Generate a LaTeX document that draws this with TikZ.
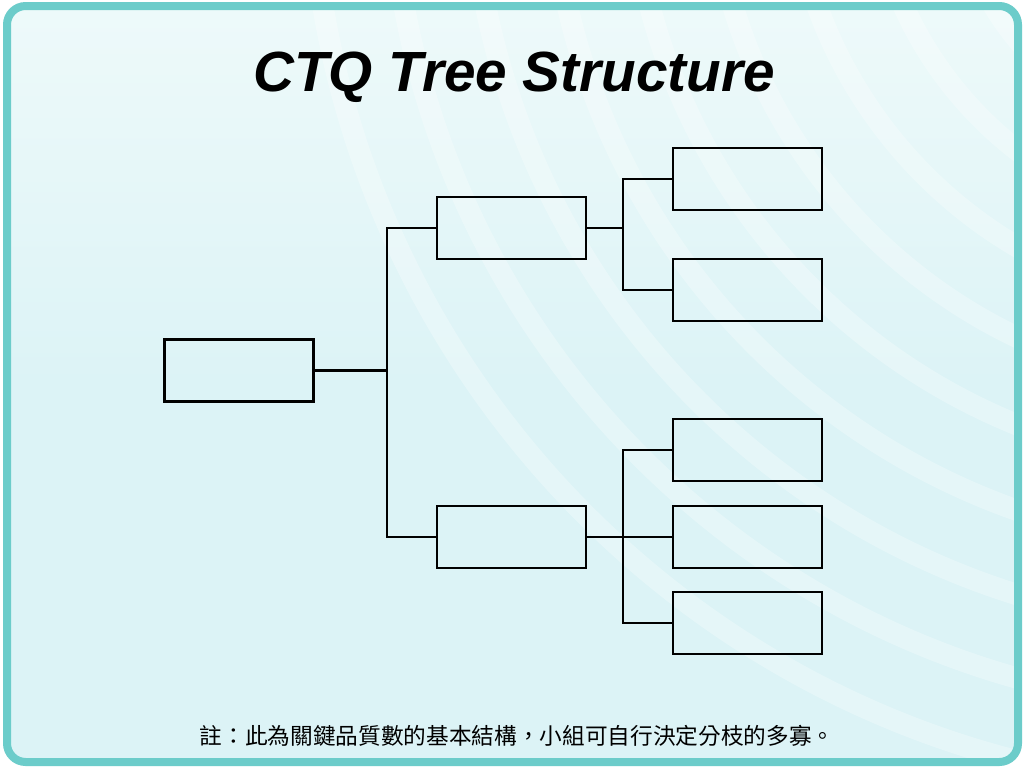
\documentclass[tikz,border=0pt]{standalone}
\usepackage{fontspec}
\setmainfont{Liberation Sans}
\newfontfamily\cjk{Noto Sans CJK TC}
\definecolor{frameteal}{RGB}{108,204,202}
\definecolor{bgcyan}{RGB}{220,243,246}
\definecolor{bgtop}{RGB}{238,250,250}
\tikzset{
  box/.style={draw=black, line width=1.8pt, rectangle, inner sep=0pt,
    minimum width=111.75pt, minimum height=46.5pt},
  link/.style={draw=black, line width=1.8pt, line join=miter},
  wave/.style={draw=white, opacity=0.28, line width=16pt}
}
\begin{document}
\begin{tikzpicture}[x=0.75pt,y=-0.75pt]
\useasboundingbox (0,0) rectangle (1024,768);
\fill[white] (0,0) rectangle (1024,768);
% background panel
\begin{scope}
  \clip[rounded corners=14pt] (7,6) rectangle (1018,762);
  \shade[top color=bgtop, bottom color=bgcyan, middle color=bgcyan] (0,0) rectangle (1024,768);
  \foreach \r in {300,380,460,540,620,700,780,860,940}{
    \draw[wave] (1250,-150) circle (\r);
  }
\end{scope}
\draw[frameteal, line width=6pt, rounded corners=14pt] (7,6) rectangle (1018,762);
% title
\node[font=\fontsize{42.5}{50}\selectfont\bfseries\itshape] (title) at (514,77) {CTQ Tree Structure};
% boxes
\node[box] (root) at (239,370.5) {};
\node[box] (m1) at (511.5,228) {};
\node[box] (m2) at (511.5,537) {};
\node[box] (l1) at (747.5,179) {};
\node[box] (l2) at (747.5,290) {};
\node[box] (l3) at (747.5,450) {};
\node[box] (l4) at (747.5,537) {};
\node[box] (l5) at (747.5,623) {};
\coordinate (j1) at (387,370.5);
\coordinate (j2) at (623,228);
\coordinate (j3) at (623,537);
% connectors
\draw[link] (root.east) -- (j1);
\draw[link] (m1.west) -| (j1) |- (m2.west);
\draw[link] (m1.east) -- (j2);
\draw[link] (l1.west) -| (j2) |- (l2.west);
\draw[link] (m2.east) -- (l4.west);
\draw[link] (l3.west) -| (j3) |- (l5.west);
% footnote
\node[font=\cjk\fontsize{17}{20}\selectfont] (note) at (517,736) {註：此為關鍵品質數的基本結構，小組可自行決定分枝的多寡。};
\end{tikzpicture}
\end{document}
